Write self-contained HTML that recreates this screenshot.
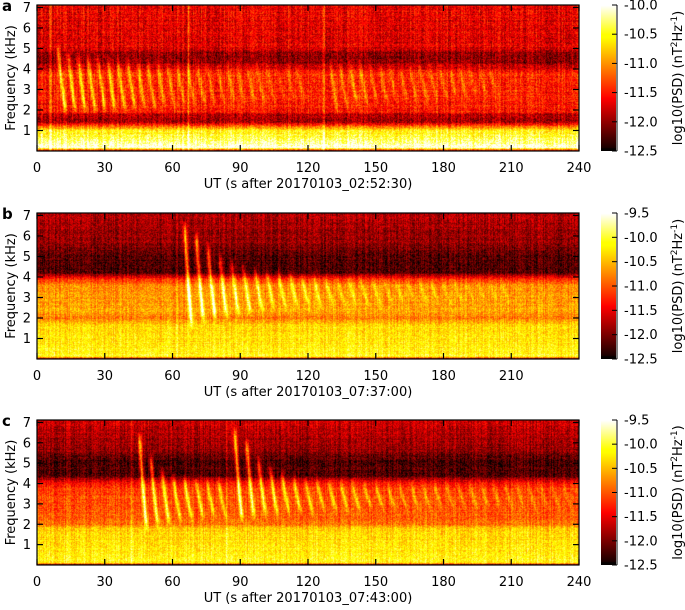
<!DOCTYPE html>
<html><head><meta charset="utf-8">
<style>
html,body{margin:0;padding:0;background:#fff;width:685px;height:610px;overflow:hidden}
canvas{position:absolute;display:block}
#ov{position:absolute;left:0;top:0}
text{font-family:"DejaVu Sans","Liberation Sans",sans-serif;fill:#000}
</style></head>
<body>
<canvas id="spa"></canvas>
<canvas id="spb"></canvas>
<canvas id="spc"></canvas>
<canvas id="cba"></canvas>
<canvas id="cbb"></canvas>
<canvas id="cbc"></canvas>
<svg id="ov" width="685" height="610"></svg>
<script>
// ---- data ----
const xTicksA = [0,30,60,90,120,150,180,210,240];
const xTicksB = [0,30,60,90,120,150,180,210];
const xTicksC = [0,30,60,90,120,150,180,210,240];
const yTicks = [1,2,3,4,5,6,7];
const cbTicksA = [-10.0,-10.5,-11.0,-11.5,-12.0,-12.5];
const cbTicksBC = [-9.5,-10.0,-10.5,-11.0,-11.5,-12.0,-12.5];
const titles = ["UT (s after 20170103_02:52:30)","UT (s after 20170103_07:37:00)","UT (s after 20170103_07:43:00)"];

// background spectral profiles (frequency kHz -> log10 PSD)
const profFA = [0,0.15,0.3,1.0,1.25,1.4,1.75,1.9,3.8,4.0,4.3,4.8,5.0,7];
const profVA = [-12,-10,-10.1,-10.6,-11.3,-11.9,-11.9,-11.5,-11.45,-11.7,-12.0,-12.0,-11.7,-11.65];
const profFB = [0,0.1,0.5,1.6,2.0,2.3,3.6,3.9,4.2,5.0,5.5,7];
const profVB = [-12.3,-10.1,-10.2,-10.3,-10.8,-10.6,-10.75,-11.2,-12.2,-12.2,-11.95,-11.75];
const profFC = [0,0.1,0.5,1.8,2.0,2.5,3.7,4.1,4.4,5.2,5.6,7];
const profVC = [-12.3,-10.1,-10.2,-10.4,-10.9,-11.0,-11.1,-11.5,-12.2,-12.2,-11.9,-11.65];

// chorus elements: start times (s), top / bottom frequency (kHz), amplitude (log units)
const elTA = [9.5,14,18.4,22.8,27.2,31.6,36,40.4,44.8,49.2,53.6,58,62.4,66.8,71.2,75.6,80,84.4,88.8,93.2,97.6,102,106.4,110.8,115.2,130,134.4,138.8,143.2,147.6,152,156.4,160.8,165.2,169.6,174,178.4,182.8,187.2,191.6,196,200.4];
const elTopA = [5.0,4.7,4.6,4.5,4.5,4.4,4.4,4.4,4.3,4.3,4.3,4.2,4.2,4.2,4.2,4.2,4.2,4.2,4.2,4.2,4.2,4.2,4.2,4.2,4.2,4.3,4.2,4.2,4.2,4.2,4.2,4.2,4.2,4.2,4.2,4.2,4.2,4.2,4.2,4.2,4.2,4.2];
const elBotA = [2.0,2.0,2.0,2.0,2.0,2.0,2.0,2.1,2.1,2.1,2.2,2.2,2.2,2.3,2.3,2.3,2.3,2.4,2.4,2.4,2.4,2.4,2.5,2.5,2.5,2.0,2.2,2.3,2.3,2.4,2.4,2.4,2.5,2.5,2.5,2.5,2.6,2.6,2.6,2.6,2.7,2.7];
const elAmpA = [1.0,0.95,0.9,0.85,0.8,0.8,0.75,0.7,0.65,0.6,0.55,0.5,0.5,0.45,0.45,0.4,0.4,0.4,0.35,0.35,0.35,0.3,0.3,0.3,0.3,0.5,0.5,0.5,0.45,0.45,0.45,0.4,0.4,0.4,0.4,0.35,0.35,0.35,0.3,0.3,0.3,0.3];
const elTB = [65.5,70.7,75.9,81.1,86.3,91.5,96.7,101.9,107.1,112.3,117.5,122.7,127.9,133.1,138.3,143.5,148.7,153.9,159.1,164.3,169.5,174.7,179.9,185.1,190.3,195.5,200.7,205.9];
const elTopB = [6.5,6.0,5.4,5.0,4.7,4.5,4.4,4.3,4.2,4.1,4.0,4.0,3.9,3.9,3.9,3.9,3.9,3.9,3.8,3.8,3.8,3.8,3.8,3.8,3.8,3.8,3.8,3.8];
const elBotB = [1.7,1.9,2.0,2.1,2.2,2.3,2.4,2.5,2.5,2.6,2.6,2.6,2.7,2.7,2.7,2.7,2.8,2.8,2.8,2.8,2.8,2.8,2.8,2.8,2.8,2.8,2.8,2.8];
const elAmpB = [1.5,1.3,1.2,1.1,1.0,0.9,0.85,0.8,0.75,0.7,0.65,0.6,0.55,0.5,0.5,0.45,0.45,0.4,0.4,0.35,0.35,0.35,0.3,0.3,0.3,0.25,0.25,0.25];
const elTC = [45.5,50.5,55.5,60.5,65.5,70.5,75.5,80.5,87.7,93,98.2,103.4,108.6,113.8,119,124.2,129.4,134.6,139.8,145,150.2,155.4,160.6,165.8,171,176.2,181.4,186.6,191.8,197,202.2,207.4,212.6,217.8,223,228.2,233.4,238.6];
const elTopC = [6.3,5.3,4.6,4.3,4.2,4.2,4.1,4.1,6.6,6.0,5.2,4.8,4.5,4.3,4.2,4.1,4.1,4.1,4.0,4.0,4.0,4.0,4.0,4.0,4.0,4.0,4.0,4.0,4.0,4.0,4.0,4.0,4.0,4.0,4.0,4.0,4.0,4.0];
const elBotC = [1.9,2.0,2.1,2.2,2.3,2.4,2.4,2.4,2.3,2.4,2.5,2.5,2.6,2.6,2.6,2.7,2.7,2.7,2.7,2.8,2.8,2.8,2.8,2.8,2.8,2.8,2.8,2.8,2.8,2.8,2.8,2.8,2.8,2.8,2.8,2.8,2.8,2.8];
const elAmpC = [1.4,1.25,1.15,1.05,1.0,0.95,0.9,0.85,1.5,1.3,1.15,1.05,0.95,0.9,0.85,0.8,0.75,0.7,0.7,0.65,0.6,0.6,0.55,0.55,0.5,0.5,0.45,0.45,0.45,0.4,0.4,0.4,0.35,0.35,0.35,0.35,0.3,0.3];
// bright broadband vertical lines (s)
const vlA = [6,67,127];
const vlB = [62];
const vlC = [42,84];

// ---- layout ----
const PX0 = 37, PX1 = 579;
const panels = [
 {id:'a',top:5,bot:151,vmin:-12.5,vmax:-10,pf:profFA,pv:profVA,et:elTA,etop:elTopA,ebot:elBotA,eamp:elAmpA,vl:vlA,xt:xTicksA,cbt:cbTicksA,seed:1},
 {id:'b',top:213,bot:359,vmin:-12.5,vmax:-9.5,pf:profFB,pv:profVB,et:elTB,etop:elTopB,ebot:elBotB,eamp:elAmpB,vl:vlB,xt:xTicksB,cbt:cbTicksBC,seed:2},
 {id:'c',top:420,bot:565,vmin:-12.5,vmax:-9.5,pf:profFC,pv:profVC,et:elTC,etop:elTopC,ebot:elBotC,eamp:elAmpC,vl:vlC,xt:xTicksC,cbt:cbTicksBC,seed:3}
];
function interp(xs,ys,x){
  if(x<=xs[0])return ys[0];
  for(let i=1;i<xs.length;i++){ if(x<=xs[i]){const u=(x-xs[i-1])/(xs[i]-xs[i-1]);return ys[i-1]+u*(ys[i]-ys[i-1]);} }
  return ys[ys.length-1];
}
function hash(a,b,s){let h=(a*374761393+b*668265263+s*982451653)|0;h=(h^(h>>>13))*1274126177|0;h=h^(h>>>16);return ((h>>>0)%10000)/10000;}
function hot(x){x=Math.max(0,Math.min(1,x));
  const r=Math.min(1,0.05+x/0.38), g=Math.max(0,Math.min(1,(x-0.36)/0.42)), b=Math.max(0,Math.min(1,(x-0.8)/0.2));
  return [Math.round(255*Math.min(1,r*(x<0.02?0.3:1))),Math.round(255*g),Math.round(255*b)];}
const svg=document.getElementById('ov');
const NS='http://www.w3.org/2000/svg';
function mk(tag,attrs,txt){const e=document.createElementNS(NS,tag);for(const k in attrs)e.setAttribute(k,attrs[k]);if(txt!==undefined)e.textContent=txt;svg.appendChild(e);return e;}

panels.forEach((p,pi)=>{
  const W=PX1-PX0, H=p.bot-p.top;
  const xs=t=>PX0+t*(W/240);
  const ys=f=>p.bot-f*(H/7.12);
  const cv=document.getElementById('sp'+p.id);
  cv.width=W;cv.height=H;cv.style.left=PX0+'px';cv.style.top=p.top+'px';
  const ctx=cv.getContext('2d');const img=ctx.createImageData(W,H);
  const colN=[];for(let i=0;i<W;i++)colN.push((hash(i,7,p.seed)-0.5)*0.35);
  const rowN=[];for(let j=0;j<H;j++)rowN.push((hash(3,j,p.seed)-0.5)*0.15);
  for(let j=0;j<H;j++){
    const f=(H-j-0.5)*(7.12/H);
    for(let i=0;i<W;i++){
      const t=(i+0.5)*(240/W);
      let v=interp(p.pf,p.pv,f)+colN[i]+rowN[j]+(hash(i,j,p.seed)-0.5)*0.55;
      for(let k=0;k<p.et.length;k++){
        const t0=p.et[k],ft=p.etop[k],fb=p.ebot[k];
        if(f>ft+0.3||f<fb-0.3||t<t0-2||t>t0+6)continue;
        const s=Math.max(0,Math.min(1,(ft-f)/(ft-fb)));
        const D=3.0;
        const tc=t0+D*Math.pow(s,1.3);
        const edge=Math.max(0,Math.min(1,(ft+0.3-f)/0.6,(f-fb+0.3)/0.6));
        const w=0.8;
        v+=p.eamp[k]*edge*Math.exp(-Math.pow((t-tc)/w,2));
      }
      for(const tl of p.vl){const d=Math.abs(t-tl);if(d<0.6)v+=0.6*(1-d/0.6);}
      const c=hot((v-p.vmin)/(p.vmax-p.vmin));
      const o=(j*W+i)*4;img.data[o]=c[0];img.data[o+1]=c[1];img.data[o+2]=c[2];img.data[o+3]=255;
    }
  }
  ctx.putImageData(img,0,0);
  // colorbar
  const cb=document.getElementById('cb'+p.id);
  cb.width=15;cb.height=H;cb.style.left='601px';cb.style.top=p.top+'px';
  const cx=cb.getContext('2d');
  for(let j=0;j<H;j++){const c=hot(1-j/(H-1));cx.fillStyle=`rgb(${c[0]},${c[1]},${c[2]})`;cx.fillRect(0,j,15,1);}
  const cby=v=>p.bot-(v-p.vmin)/(p.vmax-p.vmin)*H;
  const cbl=mk('line',{x1:617,y1:p.top,x2:617,y2:p.bot,stroke:'#000','stroke-width':1});
  
  
  p.cbt.forEach(v=>{
    const tk=mk('line',{x1:612,y1:cby(v),x2:617,y2:cby(v),stroke:'#000','stroke-width':1});
    
    
    const tl=mk('text',{x:624,y:cby(v)+4.5,'font-size':13},(v<0?'-':'')+Math.abs(v).toFixed(1));
    
    
  });
  const cyc=(p.top+p.bot)/2;
  const ct=mk('text',{x:0,y:0,'font-size':13,'text-anchor':'middle',transform:`translate(682,${cyc}) rotate(-90)`});
  ct.innerHTML='log10(PSD) (nT<tspan dy="-5" font-size="9">2</tspan><tspan dy="5">Hz</tspan><tspan dy="-5" font-size="9">-1</tspan><tspan dy="5">)</tspan>';
  
  
  // frame
  const fr=mk('rect',{x:PX0,y:p.top,width:W,height:H,fill:'none',stroke:'#000','stroke-width':1.2});
  
  
  p.xt.forEach(t=>{
    const x=xs(t);
    const a=mk('line',{x1:x,y1:p.top,x2:x,y2:p.top+6,stroke:'#000','stroke-width':1.2});
    
    
    const b=mk('line',{x1:x,y1:p.bot,x2:x,y2:p.bot-6,stroke:'#000','stroke-width':1.2});
    
    
    const l=mk('text',{x:x,y:p.bot+21,'font-size':13,'text-anchor':'middle'},String(t));
    
    
  });
  yTicks.forEach(f=>{
    const y=ys(f);
    const a=mk('line',{x1:PX0,y1:y,x2:PX0+6,y2:y,stroke:'#000','stroke-width':1.2});
    
    
    const b=mk('line',{x1:PX1,y1:y,x2:PX1-6,y2:y,stroke:'#000','stroke-width':1.2});
    
    
    const l=mk('text',{x:31,y:y+4.5,'font-size':13,'text-anchor':'end'},String(f));
    
    
  });
  const yt=mk('text',{x:0,y:0,'font-size':13,'text-anchor':'middle',transform:`translate(15,${(p.top+p.bot)/2}) rotate(-90)`},'Frequency (kHz)');
  
  
  const xt=mk('text',{x:308,y:p.bot+37,'font-size':13,'text-anchor':'middle'},titles[pi]);
  
  
  const pl=mk('text',{x:2,y:p.top+6,'font-size':15,'font-weight':'bold'},p.id);
  
  
});
</script>
</body></html>
